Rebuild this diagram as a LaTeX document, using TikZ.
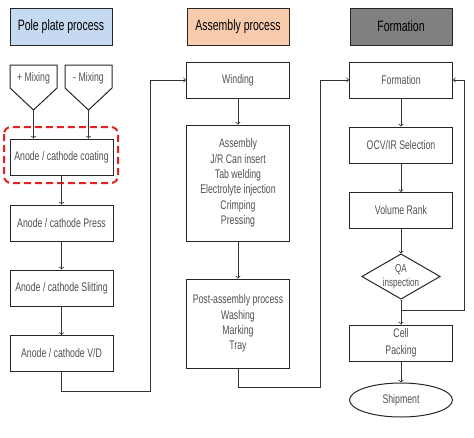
\documentclass[tikz,border=0pt]{standalone}
\usepackage{fontspec}
\setmainfont{Liberation Sans}[FakeStretch=0.7]
\usetikzlibrary{shapes.geometric}
\definecolor{poleblue}{RGB}{197,217,241}
\definecolor{asmpeach}{RGB}{248,203,173}
\definecolor{formgray}{RGB}{128,128,128}
\definecolor{boxtext}{RGB}{80,80,80}
\definecolor{markred}{RGB}{228,32,32}

\begin{document}
\begin{tikzpicture}[x=1pt, y=-1pt,
		head/.style={draw=black!85, line width=1pt, minimum width=102pt, minimum height=37pt, inner sep=0pt, font=\fontsize{15}{16}\selectfont},
		box/.style={draw=black!85, line width=1pt, minimum width=103pt, minimum height=36pt, inner sep=0pt, align=center, text=boxtext, font=\fontsize{12.5}{15.4}\selectfont},
		flow/.style={->, line width=0.8pt, black!80}]
			%%%%% START %%%%%
			\useasboundingbox (0, 0) rectangle (474, 437);
			
			\node[head, fill=poleblue] (polehead) at (61, 26.5) {Pole plate process};
			\node[head, fill=asmpeach] (asmhead) at (238, 26.5) {Assembly process};
			\node[head, fill=formgray] (formhead) at (401, 26.5) {Formation};
			
			\draw[line width=1pt, black!85] (10, 65) -- (57, 65) -- (57, 88) -- (33.5, 110) -- (10, 88) -- cycle;
			\node[text=boxtext, font=\fontsize{12.5}{14}\selectfont] (plusmix) at (33.5, 78) {+ Mixing};
			\coordinate (plustip) at (33.5, 110);
			\draw[line width=1pt, black!85] (65, 65) -- (112, 65) -- (112, 88) -- (88.5, 110) -- (65, 88) -- cycle;
			\node[text=boxtext, font=\fontsize{12.5}{14}\selectfont] (minusmix) at (88.5, 78) {- Mixing};
			\coordinate (minustip) at (88.5, 110);
			
			\node[box] (coating) at (61.5, 157) {Anode / cathode coating};
			\node[box] (press) at (61.5, 223) {Anode / cathode Press};
			\node[box] (slit) at (61.5, 288) {Anode / cathode Slitting};
			\node[box] (vd) at (61.5, 353.5) {Anode / cathode V/D};
			\draw[markred, line width=2pt, dash pattern=on 7pt off 4pt, rounded corners=7pt] (4, 127) rectangle (118, 183);
			
			\node[box] (winding) at (238, 80) {Winding};
			\node[box, minimum height=116pt] (asm) at (238, 183) {Assembly\\J/R Can insert\\Tab welding\\Electrolyte injection\\Crimping\\Pressing};
			\node[box, minimum height=89pt] (post) at (238, 323.5) {Post-assembly process\\Washing\\Marking\\Tray};
			
			\node[box] (formbox) at (401, 80) {Formation};
			\node[box] (ocv) at (401, 145) {OCV/IR Selection};
			\node[box] (vol) at (401, 210.5) {Volume Rank};
			\node[draw=black!85, line width=1pt, diamond, aspect=1.73, minimum width=78pt, minimum height=45pt, inner sep=0pt, align=center, text=boxtext, font=\fontsize{11.5}{14}\selectfont] (qa) at (401, 276.5) {QA\\inspection};
			\node[box, font=\fontsize{12.5}{17}\selectfont] (cell) at (401, 343) {Cell\\Packing};
			\node[draw=black!85, line width=1pt, ellipse, minimum width=103pt, minimum height=34pt, inner sep=0pt, text=boxtext, font=\fontsize{12.5}{14}\selectfont] (ship) at (401, 400) {Shipment};
			\coordinate (qajoin) at (401, 310);
			
			\draw[flow] (plustip) -- (plustip |- coating.north);
			\draw[flow] (minustip) -- (minustip |- coating.north);
			\draw[flow] (coating) -- (press);
			\draw[flow] (press) -- (slit);
			\draw[flow] (slit) -- (vd);
			\draw[flow] (vd.south) |- (150, 391) |- (winding.west);
			
			\draw[flow] (winding) -- (asm);
			\draw[flow] (asm) -- (post);
			\draw[flow] (post.south) |- (320, 387) |- (formbox.west);
			
			\draw[flow] (formbox) -- (ocv);
			\draw[flow] (ocv) -- (vol);
			\draw[flow] (vol) -- (qa);
			\draw[flow] (qa) -- (cell);
			\draw[flow] (cell) -- (ship);
			\draw[flow] (qajoin) -| (464, 80) -- (formbox.east);
			
			%%%%% END %%%%%
\end{tikzpicture}
\end{document}
